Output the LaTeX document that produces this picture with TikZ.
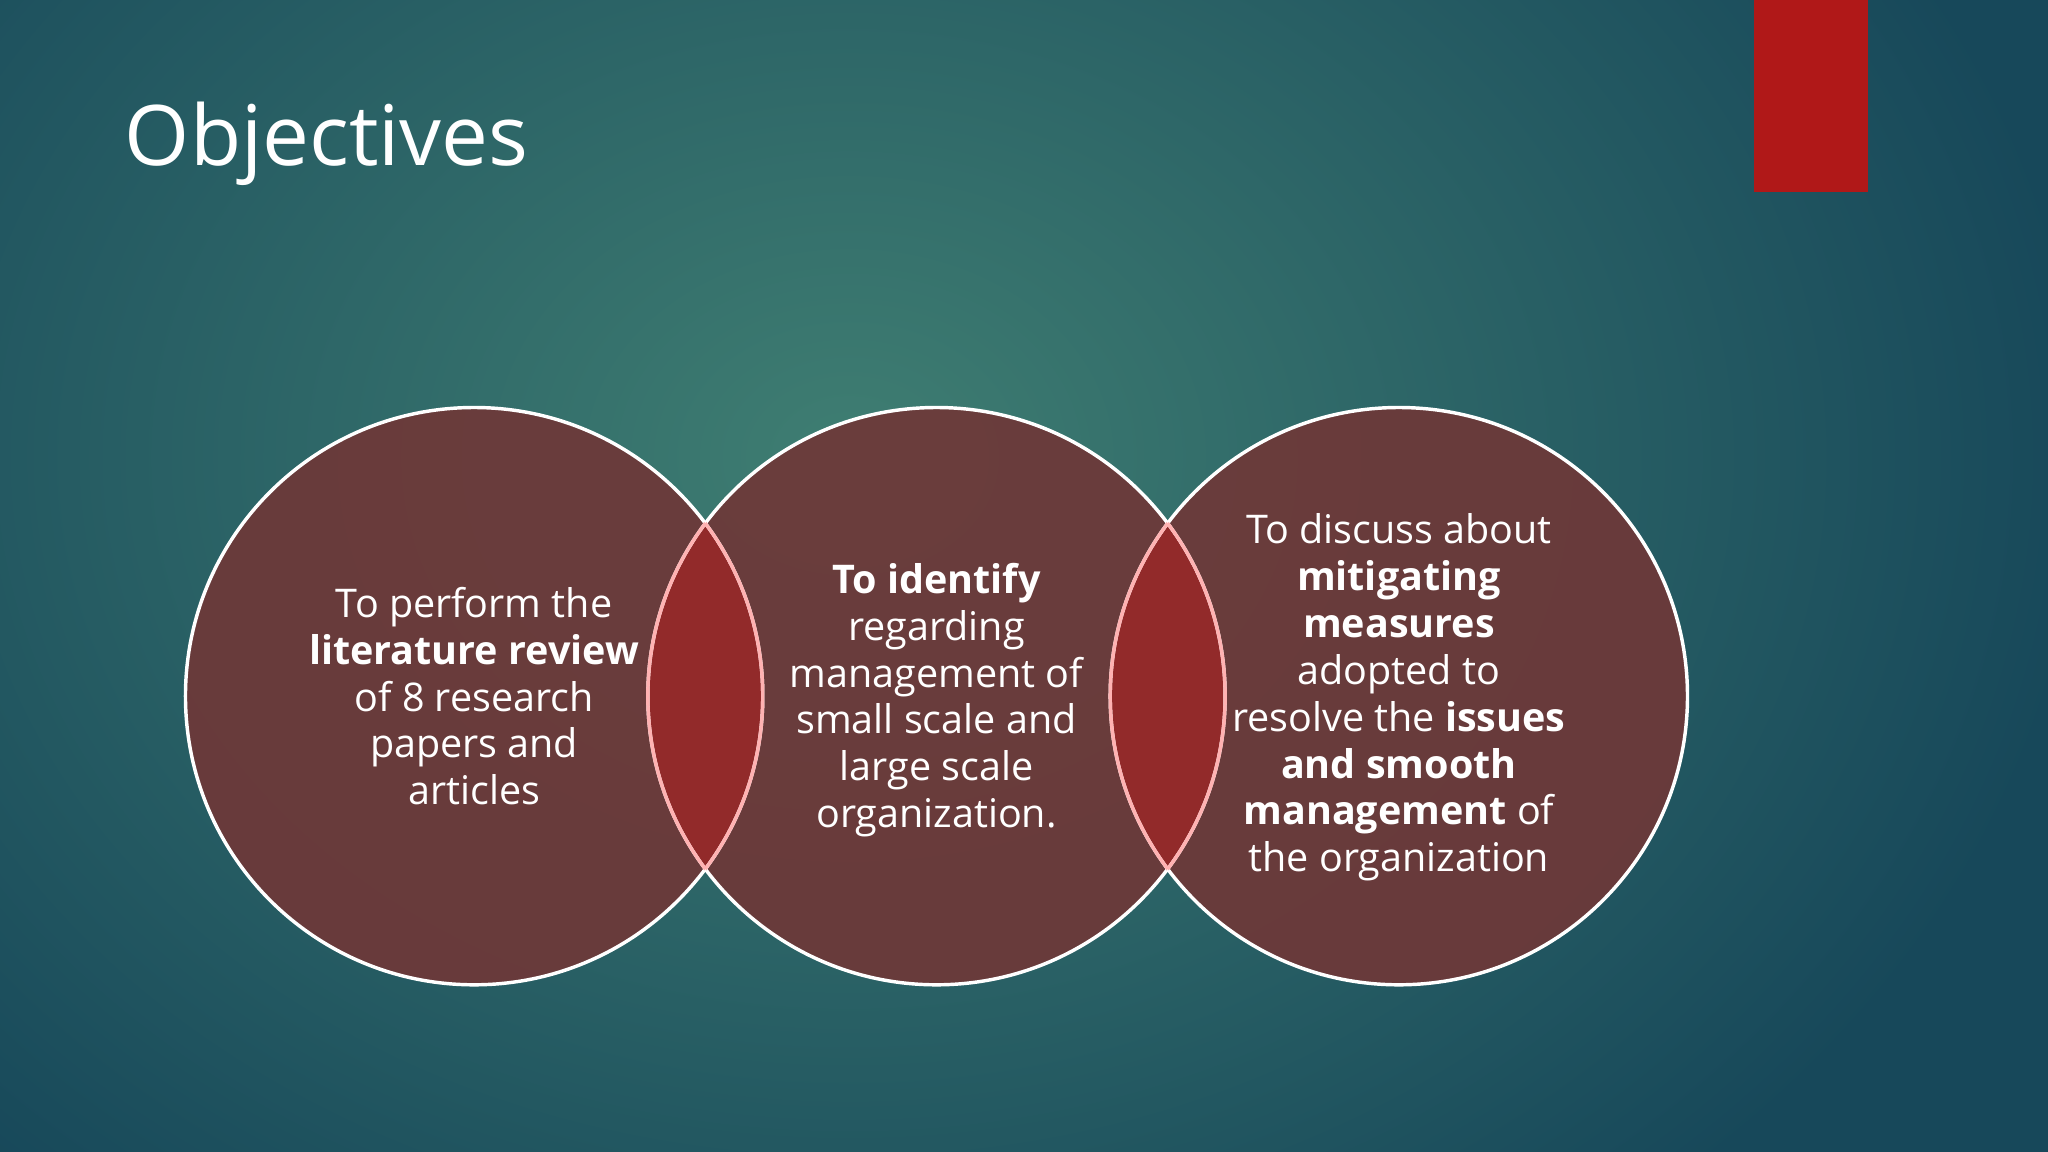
\documentclass[tikz,border=0pt]{standalone}
\usepackage{fontspec}
\setmainfont{Open Sans}
\definecolor{bgin}{HTML}{3F7E72}
\definecolor{bgout}{HTML}{17485A}
\definecolor{circ}{HTML}{6E3838}
\definecolor{lens}{HTML}{922A2A}
\definecolor{redbar}{HTML}{B01818}
\tikzset{
  body/.style={text=white,align=center,font=\fontsize{8.6pt}{10.2pt}\selectfont,inner sep=0pt},
  ring/.style={draw=white,line width=0.75pt}
}
\begin{document}
\begin{tikzpicture}[x=0.01cm,y=-0.01cm]
\useasboundingbox (0,0) rectangle (1568,882);
\shade[inner color=bgin,outer color=bgout] (-300,-400) rectangle (1600,1100);
\fill[redbar] (1343,0) rectangle (1430,147);
\node[anchor=west,text=white,font=\fontsize{18.2pt}{22pt}\selectfont,inner sep=0pt] (title) at (95,110) {Objectives};
\coordinate (c1) at (363,533);
\coordinate (c2) at (717,533);
\coordinate (c3) at (1071,533);
\foreach \c in {c1,c2,c3}{\fill[circ,opacity=0.92] (\c) circle (221);}
\begin{scope}\clip (c1) circle (221); \fill[lens] (c2) circle (221);\end{scope}
\begin{scope}\clip (c2) circle (221); \fill[lens] (c3) circle (221);\end{scope}
\foreach \c in {c1,c2,c3}{\draw[ring] (\c) circle (221);}
\begin{scope}\clip (c1) circle (221); \draw[draw=red!30!white,line width=0.75pt] (c2) circle (221);\end{scope}
\begin{scope}\clip (c2) circle (221); \draw[draw=red!30!white,line width=0.75pt] (c1) circle (221); \draw[draw=red!30!white,line width=0.75pt] (c3) circle (221);\end{scope}
\begin{scope}\clip (c3) circle (221); \draw[draw=red!30!white,line width=0.75pt] (c2) circle (221);\end{scope}
\node[body] (t1) at (363,533) {To perform the\\\textbf{literature review}\\of 8 research\\papers and\\articles};
\node[body] (t2) at (717,536) {\textbf{To identify}\\regarding\\management of\\small scale and\\large scale\\organization.};
\node[body] (t3) at (1071,534) {To discuss about\\\textbf{mitigating}\\\textbf{measures}\\adopted to\\resolve the \textbf{issues}\\\textbf{and smooth}\\\textbf{management} of\\the organization};
\end{tikzpicture}
\end{document}
